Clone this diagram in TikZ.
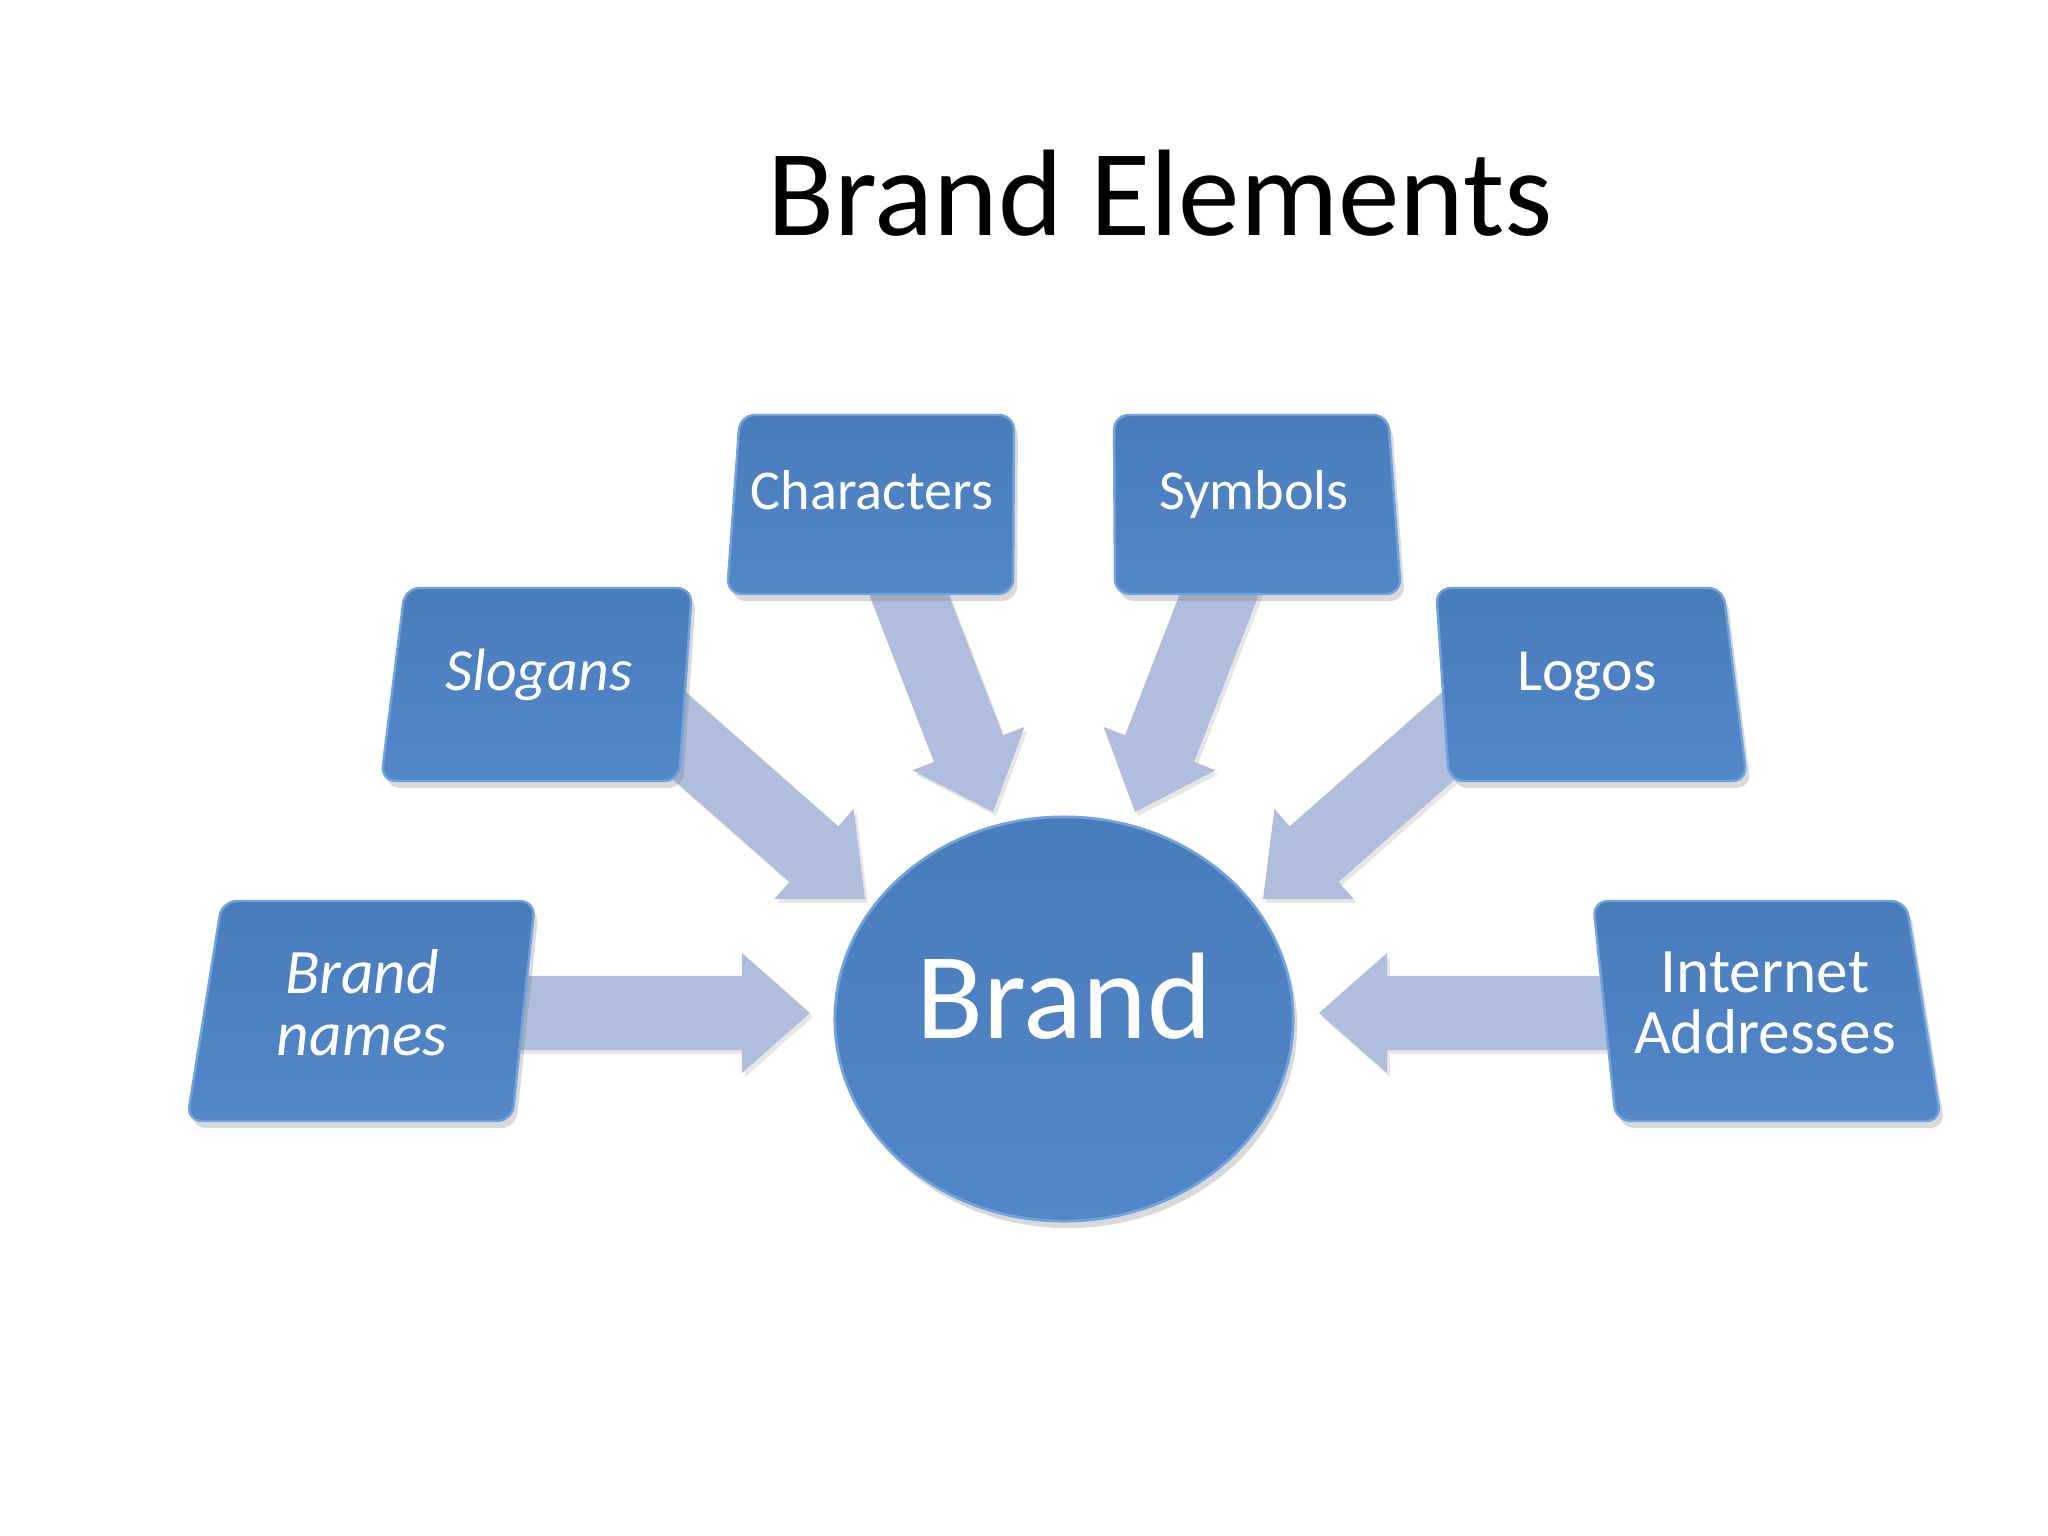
\documentclass[tikz,border=0pt]{standalone}
\usepackage{fontspec}
\setmainfont{Carlito}
\usetikzlibrary{calc,shapes.geometric,shadows}

\definecolor{tileblue}{RGB}{73,124,187}
\definecolor{tilelight}{RGB}{82,135,200}
\definecolor{tileedge}{RGB}{112,162,222}
\definecolor{arrowgrey}{RGB}{176,190,221}

\tikzset{
  tile/.style={rounded corners=0.15cm, top color=tileblue, bottom color=tilelight, draw=tileedge, line width=0.7pt,
    drop shadow={shadow xshift=0.04cm, shadow yshift=-0.07cm, opacity=0.3}},
  hub/.style={ellipse, minimum width=4.58cm, minimum height=4.04cm, inner sep=0pt, top color=tileblue, bottom color=tilelight,
    draw=tileedge, line width=0.8pt, drop shadow={shadow xshift=0.04cm, shadow yshift=-0.07cm, opacity=0.3}},
  txt/.style={text=white, inner sep=0pt},
  bigtxt/.style={txt, align=center, font=\fontsize{18}{17.5}\selectfont},
  midtxt/.style={txt, anchor=base, font=\fontsize{17}{20}\selectfont},
  smalltxt/.style={txt, anchor=base, font=\fontsize{16}{19}\selectfont}
}

% block arrow from tail #1 to tip #2
\newcommand{\blockarrow}[2]{%
  \coordinate (hb) at ($(#2)!0.68cm!(#1)$);
  \fill[arrowgrey, drop shadow={shadow xshift=0.03cm, shadow yshift=-0.04cm, opacity=0.2}]
    ($(#1)!0.37cm!90:(#2)$) -- ($(hb)!0.37cm!-90:(#1)$) -- ($(hb)!0.6cm!-90:(#1)$) -- (#2)
    -- ($(hb)!0.6cm!90:(#1)$) -- ($(hb)!0.37cm!90:(#1)$) -- ($(#1)!0.37cm!-90:(#2)$) -- cycle;
}

\begin{document}
\begin{tikzpicture}[x=0.01cm,y=-0.01cm]
    \useasboundingbox (0,0) rectangle (2048,1536);

    \node[anchor=base, font=\fontsize{35}{42}\selectfont] (T) at (1160,235) {Brand Elements};

    % arrow tails (under the tiles) and tips
    \coordinate (bn) at (450,1013);  \coordinate (bnT) at (810,1013);
    \coordinate (sl) at (640,701);   \coordinate (slT) at (865,899);
    \coordinate (ch) at (885,533);   \coordinate (chT) at (993,812);
    \coordinate (sy) at (1243,533);  \coordinate (syT) at (1135,812);
    \coordinate (lo) at (1488,701);  \coordinate (loT) at (1263,899);
    \coordinate (ia) at (1678,1013); \coordinate (iaT) at (1319,1013);

    \blockarrow{bn}{bnT}
    \blockarrow{sl}{slT}
    \blockarrow{ch}{chT}
    \blockarrow{sy}{syT}
    \blockarrow{lo}{loT}
    \blockarrow{ia}{iaT}

    \filldraw[tile] (222,901) -- (535,901) -- (512,1121) -- (187,1121) -- cycle;% brand names
    \filldraw[tile] (405,588) -- (692,588) -- (679,781) -- (381,781) -- cycle;% slogans
    \filldraw[tile] (740,415) -- (1014,415) -- (1013,594) -- (727,594) -- cycle;% characters
    \filldraw[tile] (1114,415) -- (1388,415) -- (1401,594) -- (1115,594) -- cycle;% symbols
    \filldraw[tile] (1436,588) -- (1723,588) -- (1747,781) -- (1449,781) -- cycle;% logos
    \filldraw[tile] (1593,901) -- (1906,901) -- (1941,1121) -- (1616,1121) -- cycle;% internet addresses

    \node[hub] (BR) at (1064,1019) {};
    \node[txt, anchor=base, font=\fontsize{35}{42}\selectfont] (BRt) at (1064,1038) {Brand};

    \node[bigtxt, font=\itshape\fontsize{18}{17.5}\selectfont] (BN) at (362,1003) {Brand\\names};
    \node[midtxt, font=\itshape\fontsize{17}{20}\selectfont] (SL) at (539,690) {Slogans};
    \node[smalltxt] (CH) at (872,509) {Characters};
    \node[smalltxt] (SY) at (1254,509) {Symbols};
    \node[midtxt] (LO) at (1587,690) {Logos};
    \node[bigtxt] (IA) at (1765,1003) {Internet\\Addresses};
\end{tikzpicture}
\end{document}
